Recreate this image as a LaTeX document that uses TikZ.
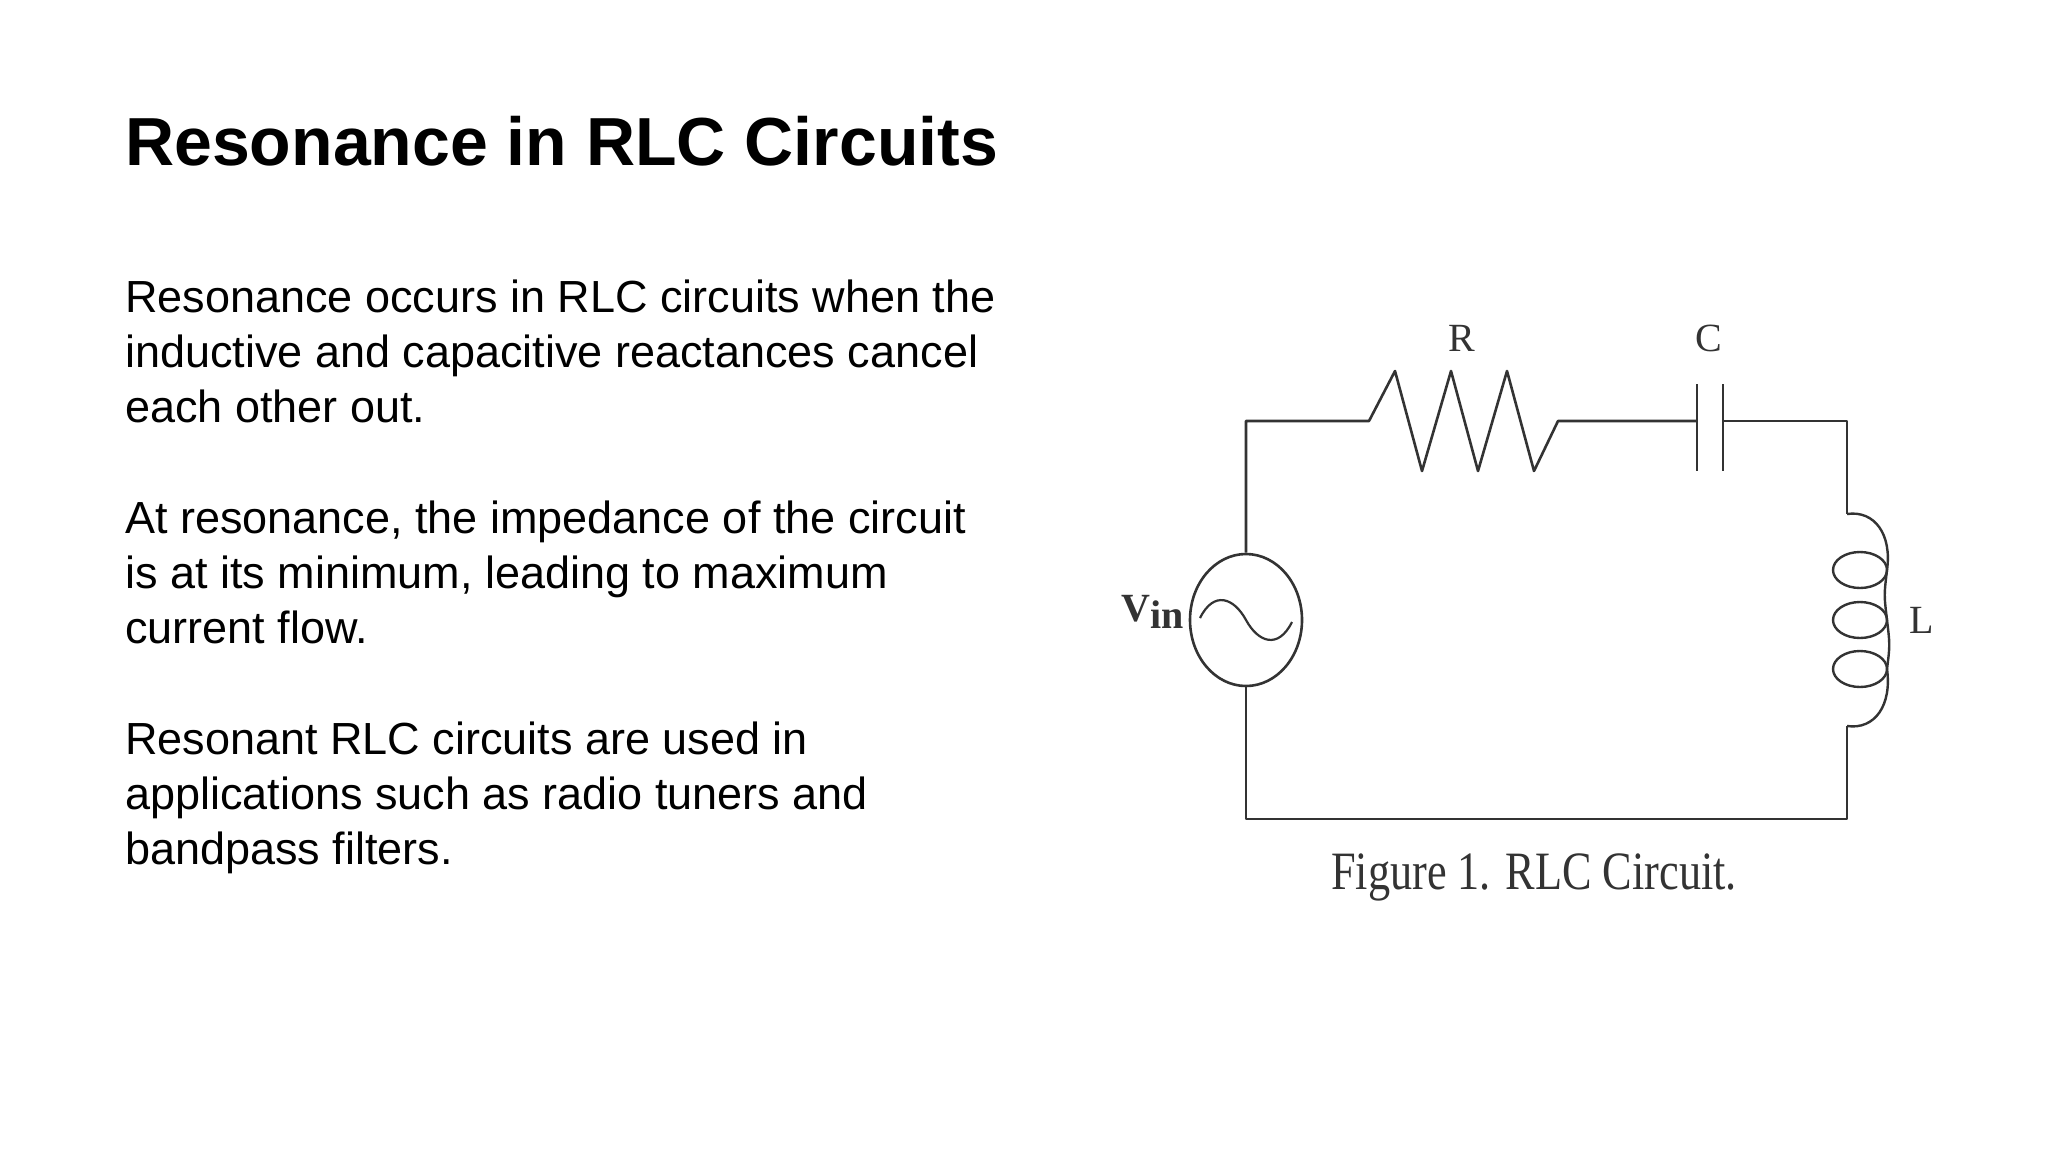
\documentclass[tikz,border=0pt]{standalone}
\usepackage{fontspec}
\usetikzlibrary{shapes.geometric}
\setmainfont{Liberation Sans}
\newfontfamily\serifc{Liberation Serif}
\begin{document}
\begin{tikzpicture}[x=1pt,y=-1pt,
  wire/.style={draw=black!80,line width=2.6pt,line join=round},
  coil/.style={draw=black!80,line width=2.4pt,ellipse,minimum width=54,minimum height=36,inner sep=0},
  body/.style={anchor=base west,inner sep=0,font=\fontsize{45}{52}\selectfont},
  lab/.style={inner sep=0,text=black!80,font=\serifc\fontsize{40}{48}\selectfont}]
\useasboundingbox[fill=white] (0,0) rectangle (2048,1152);
\node[anchor=base west,inner sep=0,font=\bfseries\fontsize{68}{72}\selectfont] (title) at (125,165) {Resonance in RLC Circuits};
\node[body] (a1) at (125,312) {Resonance occurs in RLC circuits when the};
\node[body] (a2) at (125,367) {inductive and capacitive reactances cancel};
\node[body] (a3) at (125,422) {each other out.};
\node[body] (b1) at (125,533) {At resonance, the impedance of the circuit};
\node[body] (b2) at (125,588) {is at its minimum, leading to maximum};
\node[body] (b3) at (125,643) {current flow.};
\node[body] (c1) at (125,754) {Resonant RLC circuits are used in};
\node[body] (c2) at (125,809) {applications such as radio tuners and};
\node[body] (c3) at (125,864) {bandpass filters.};
% circuit
\node[wire,ellipse,minimum width=112,minimum height=132,inner sep=0] (src) at (1246,620) {};
\coordinate (tl) at (1246,421);
\coordinate (tr) at (1847,421);
\coordinate (bl) at (1246,819);
\coordinate (br) at (1847,819);
\coordinate (r0) at (1369,421);
\coordinate (r1) at (1558,421);
\coordinate (c0) at (1697,421);
\coordinate (c1) at (1723,421);
\coordinate (l0) at (1847,514);
\coordinate (l1) at (1847,726);
\draw[wire] (src.north) -- (tl) -- (r0) -- (1395,371) -- (1422,471) -- (1451,371) -- (1478,471) -- (1507,371) -- (1534,471) -- (r1) -- (c0);
\draw[wire] (1697,384) -- (1697,471);
\draw[wire] (1723,384) -- (1723,471);
\draw[wire] (c1) -- (tr) -- (l0);
\draw[wire] (src.south) -- (bl) -- (br) -- (l1);
% source sine
\draw[wire,line width=2.2pt] (1200,618) .. controls (1214,590) and (1234,598) .. (1246,620) .. controls (1258,642) and (1278,650) .. (1292,622);
% inductor
\node[coil] (k1) at (1860,570) {};
\node[coil] (k2) at (1860,620) {};
\node[coil] (k3) at (1860,669) {};
\draw[wire,line width=2.4pt] (l0) .. controls (1875,510) and (1892,535) .. (1887,570)
  .. controls (1884,595) .. (1887,620) .. controls (1890,645) .. (1887,669)
  .. controls (1892,705) and (1875,730) .. (l1);
\node[lab] (lr) at (1462,338) {R};
\node[lab] (lc) at (1709,338) {C};
\node[lab] (ll) at (1922,620) {L};
\node[lab,font=\serifc\bfseries\fontsize{40}{48}\selectfont,anchor=east] (lv) at (1184,612) {V\raisebox{-0.35ex}{in}};
\node[lab,font=\serifc\fontsize{54}{58}\selectfont] (cap) at (1534,877) {\scalebox{0.82}[1]{Figure 1. RLC Circuit.}};
\end{tikzpicture}
\end{document}
